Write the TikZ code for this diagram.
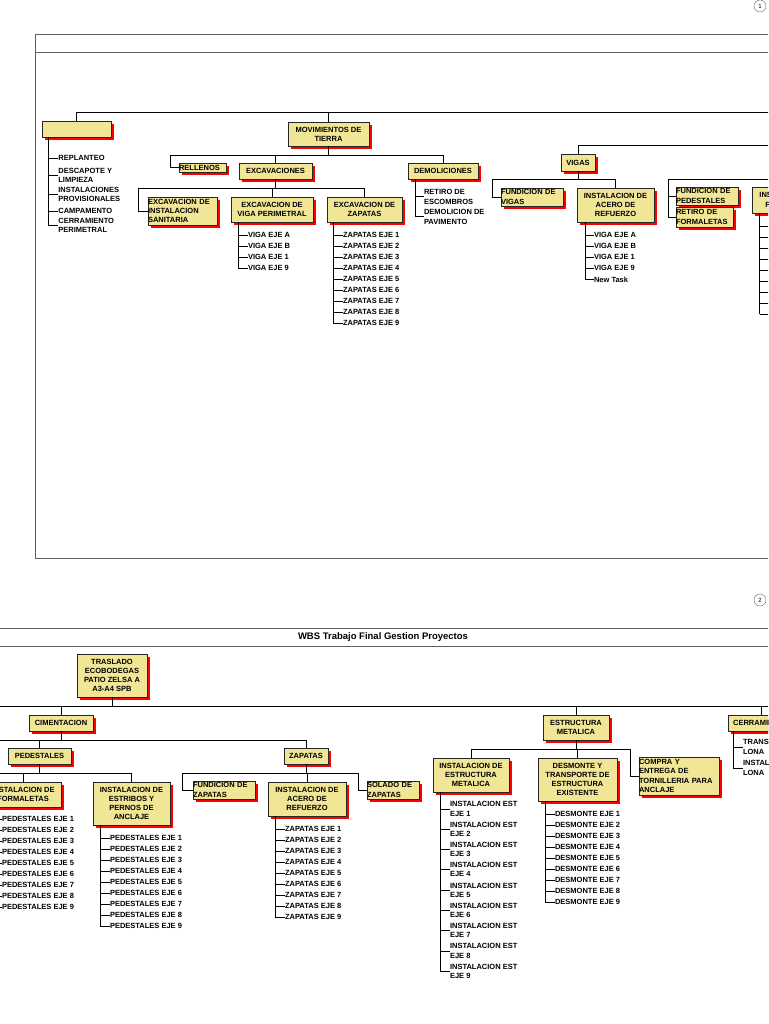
\documentclass[tikz,border=0pt]{standalone}
\usepackage{fontspec}
\setmainfont{Liberation Sans}
\usepackage{tikz}
\usepackage{xcolor}
\usetikzlibrary{shadows}
\definecolor{boxfill}{RGB}{240,230,150}
\definecolor{framegray}{RGB}{95,95,95}
\newcommand{\wbsfont}{\fontsize{7.5}{9.2}\selectfont\bfseries}

\begin{document}
\begin{tikzpicture}[x=1pt, y=-1pt,
                    line width=0.75pt,
                    wbs/.style={draw=black!85, fill=boxfill, inner sep=0pt, align=center, font=\wbsfont,
                                drop shadow={fill=red, opacity=1, shadow xshift=3pt, shadow yshift=-3pt}},
                    wbsleft/.style={wbs, align=left},
                    task/.style={anchor=west, inner sep=0pt, align=left, font=\wbsfont},
                    frame/.style={draw=framegray, line width=1pt},
                    pagenum/.style={circle, draw=black!60, line width=0.4pt, minimum size=12pt, inner sep=0pt,
                                    font=\fontsize{6}{6}\selectfont}]
    \useasboundingbox (0,0) rectangle (768,1024);
    \clip (0,0) rectangle (768,1024);

    \node[pagenum] (pag1) at (760,6) {1};
    \draw[frame] (35,35) rectangle (775,558);
    \draw[frame] (35,53) -- (775,53);

    \node[wbs, minimum width=69pt, minimum height=16pt] (prelim) at (76.5,129) {};
    \node[wbs, minimum width=81pt, minimum height=24pt] (mov) at (328.5,134) {MOVIMIENTOS DE\\TIERRA};
    \node[wbsleft, text width=47pt, minimum height=9pt] (rell) at (202.5,167.5) {RELLENOS};
    \node[wbs, minimum width=73pt, minimum height=16pt] (exc) at (275.5,171) {EXCAVACIONES};
    \node[wbs, minimum width=70pt, minimum height=16pt] (dem) at (443,171) {DEMOLICIONES};
    \node[wbsleft, text width=69pt, minimum height=28pt] (exsan) at (182.5,211) {EXCAVACION DE\\INSTALACION\\SANITARIA};
    \node[wbs, minimum width=82pt, minimum height=25pt] (exvig) at (272,209.5) {EXCAVACION DE\\VIGA PERIMETRAL};
    \node[wbs, minimum width=75pt, minimum height=25pt] (exzap) at (364.5,209.5) {EXCAVACION DE\\ZAPATAS};
    \node[wbs, minimum width=34pt, minimum height=17pt] (vigas) at (578,162.5) {VIGAS};
    \node[wbsleft, text width=62pt, minimum height=18pt] (fundv) at (532,197) {FUNDICION DE\\VIGAS};
    \node[wbs, minimum width=77pt, minimum height=34pt] (acv) at (615.5,205) {INSTALACION DE\\ACERO DE\\REFUERZO};
    \node[wbsleft, text width=62pt, minimum height=18pt] (fundp) at (707,196) {FUNDICION DE\\PEDESTALES};
    \node[wbsleft, text width=57pt, minimum height=20pt] (retf) at (704.5,217) {RETIRO DE\\FORMALETAS};
    \node[wbs, minimum width=78pt, minimum height=26pt] (insf) at (791,200) {INSTALACION DE\\FORMALETAS};

    \coordinate (bus1) at (775,112);
    \coordinate (bus2) at (775,145);
    \coordinate (bus3) at (668,179);
    \coordinate (bus3end) at (775,179);
    \draw (prelim.north) |- (bus1);
    \draw (mov.north) -- (mov.north |- bus1);
    \draw (vigas.north) |- (bus2);
    \draw (mov.south) -- ++(0,9) coordinate (movbus);
    \draw (rell.west) -- ++(-8pt,0) |- (movbus) -| (dem.north);
    \draw (exc.north) -- (exc.north |- movbus);
    \draw (exc.south) -- ++(0,9) coordinate (excbus);
    \draw (exsan.west) -- ++(-9pt,0) |- (excbus) -| (exzap.north);
    \draw (exvig.north) -- (exvig.north |- excbus);
    \draw (vigas.south) -- ++(0,8) coordinate (vigbus);
    \draw (fundv.west) -- ++(-8pt,0) |- (vigbus) -| (acv.north);
    \draw (fundp.west) -| (bus3) -- (bus3end);
    \draw (retf.west) -| (bus3);
    \draw (insf.north) -- (insf.north |- bus3);

    \foreach \y/\txt [count=\i] in {158/REPLANTEO, 175.5/{DESCAPOTE Y\\LIMPIEZA}, 194.5/{INSTALACIONES\\PROVISIONALES},
                                    211/CAMPAMENTO, 225.5/{CERRAMIENTO\\PERIMETRAL}}
        \node[task] (prelim-\i) at (58,\y) {\txt};
    \draw ([xshift=7pt]prelim.south west) |- (prelim-5.west);
    \foreach \i in {1,...,4}
        \draw (prelim-\i.west) -- ++(-9pt,0);

    \foreach \txt [count=\i] in {{RETIRO DE\\ESCOMBROS}, {DEMOLICION DE\\PAVIMENTO}}
        \node[task] (dem-\i) at ([xshift=16pt, yshift=2.5pt-20pt*\i]dem.south west) {\txt};
    \draw ([xshift=8pt]dem.south west) |- (dem-2.west);
    \draw (dem-1.west) -- ++(-8pt,0);

    \foreach \txt [count=\i] in {VIGA EJE A, VIGA EJE B, VIGA EJE 1, VIGA EJE 9}
        \node[task] (exvig-\i) at ([xshift=17pt, yshift=-2pt-11pt*\i]exvig.south west) {\txt};
    \draw ([xshift=8pt]exvig.south west) |- (exvig-4.west);
    \foreach \i in {1,...,3}
        \draw (exvig-\i.west) -- ++(-9pt,0);

    \foreach \i in {1,...,9}
        \node[task] (exzap-\i) at ([xshift=16pt, yshift=-2pt-11pt*\i]exzap.south west) {ZAPATAS EJE \i};
    \draw ([xshift=7pt]exzap.south west) |- (exzap-9.west);
    \foreach \i in {1,...,8}
        \draw (exzap-\i.west) -- ++(-9pt,0);

    \foreach \txt [count=\i] in {VIGA EJE A, VIGA EJE B, VIGA EJE 1, VIGA EJE 9, New Task}
        \node[task] (acv-\i) at ([xshift=17pt, yshift=-2pt-11pt*\i]acv.south west) {\txt};
    \draw ([xshift=9pt]acv.south west) |- (acv-5.west);
    \foreach \i in {1,...,4}
        \draw (acv-\i.west) -- ++(-8pt,0);

    \foreach \i in {1,...,9}
        \coordinate (insf-\i) at ([xshift=8pt, yshift=-2pt-11pt*\i]insf.south west);
    \draw ([xshift=8pt]insf.south west) -- (insf-9);
    \foreach \i in {1,...,9}
        \draw (insf-\i) -- ++(12pt,0);

    \node[pagenum] (pag2) at (760,600) {2};
    \draw[frame] (-5,628) -- (775,628);
    \draw[frame] (-5,646) -- (775,646);
    \node[font=\fontsize{9.5}{11}\selectfont\bfseries] (titulo) at (383,637) {WBS Trabajo Final Gestion Proyectos};

    \node[wbs, minimum width=70pt, minimum height=43pt] (tras) at (112,675.5) {TRASLADO\\ECOBODEGAS\\PATIO ZELSA A\\A3-A4 SPB};
    \node[wbs, minimum width=64pt, minimum height=16pt] (cim) at (61,723) {CIMENTACION};
    \node[wbs, minimum width=66pt, minimum height=25pt] (estm) at (576,727.5) {ESTRUCTURA\\METALICA};
    \node[wbs, minimum width=66pt, minimum height=16pt] (cerr) at (761,723) {CERRAMIENTO};
    \node[wbs, minimum width=63pt, minimum height=16pt] (ped) at (39.5,756) {PEDESTALES};
    \node[wbs, minimum width=44pt, minimum height=16pt] (zap) at (306,756) {ZAPATAS};
    \node[wbs, minimum width=76pt, minimum height=25pt] (insform) at (23,794.5) {INSTALACION DE\\FORMALETAS};
    \node[wbs, minimum width=77pt, minimum height=43pt] (insest) at (131.5,803.5) {INSTALACION DE\\ESTRIBOS Y\\PERNOS DE\\ANCLAJE};
    \node[wbsleft, text width=62pt, minimum height=18pt] (fundz) at (224,790) {FUNDICION DE\\ZAPATAS};
    \node[wbs, minimum width=78pt, minimum height=34pt] (acz) at (307,799) {INSTALACION DE\\ACERO DE\\REFUERZO};
    \node[wbsleft, text width=52pt, minimum height=18pt] (solz) at (393,790) {SOLADO DE\\ZAPATAS};
    \node[wbs, minimum width=76pt, minimum height=34pt] (iem) at (471,775) {INSTALACION DE\\ESTRUCTURA\\METALICA};
    \node[wbs, minimum width=79pt, minimum height=43pt] (dte) at (577.5,779.5) {DESMONTE Y\\TRANSPORTE DE\\ESTRUCTURA\\EXISTENTE};
    \node[wbsleft, text width=80pt, minimum height=38pt] (comp) at (679,776) {COMPRA Y\\ENTREGA DE\\TORNILLERIA PARA\\ANCLAJE};

    \coordinate (bus4l) at (-5,706);
    \coordinate (bus4r) at (775,706);
    \coordinate (cimbus) at (-5,740);
    \coordinate (pedbus) at (-5,773);
    \draw (bus4l) -- (bus4r);
    \draw (tras.south) -- (tras.south |- bus4l);
    \foreach \n in {cim, estm, cerr}
        \draw (\n.north) -- (\n.north |- bus4l);
    \draw (cim.south) -- (cim.south |- cimbus);
    \draw (cimbus) -| (zap.north);
    \draw (ped.north) -- (ped.north |- cimbus);
    \draw (ped.south) -- (ped.south |- pedbus);
    \draw (pedbus) -| (insest.north);
    \draw (insform.north) -- (insform.north |- pedbus);
    \draw (zap.south) -- ++(0,9) coordinate (zapbus);
    \draw (fundz.west) -- ++(-10pt,0) |- (zapbus) -| ([xshift=-8pt]solz.west) -- (solz.west);
    \draw (acz.north) -- (acz.north |- zapbus);
    \draw (estm.south) -- ++(0,9) coordinate (estbus);
    \draw (iem.north) |- (estbus) -| ([xshift=-8pt]comp.west) -- (comp.west);
    \draw (dte.north) -- (dte.north |- estbus);

    \foreach \i in {1,...,9}
        \node[task] (insform-\i) at ([xshift=17pt, yshift=-1pt-11pt*\i]insform.south west) {PEDESTALES EJE \i};
    \draw ([xshift=8pt]insform.south west) |- (insform-9.west);
    \foreach \i in {1,...,8}
        \draw (insform-\i.west) -- ++(-9pt,0);

    \foreach \i in {1,...,9}
        \node[task] (insest-\i) at ([xshift=17pt, yshift=-2pt-11pt*\i]insest.south west) {PEDESTALES EJE \i};
    \draw ([xshift=8pt]insest.south west) |- (insest-9.west);
    \foreach \i in {1,...,8}
        \draw (insest-\i.west) -- ++(-9pt,0);

    \foreach \i in {1,...,9}
        \node[task] (acz-\i) at ([xshift=17pt, yshift=-2pt-11pt*\i]acz.south west) {ZAPATAS EJE \i};
    \draw ([xshift=8pt]acz.south west) |- (acz-9.west);
    \foreach \i in {1,...,8}
        \draw (acz-\i.west) -- ++(-9pt,0);

    \foreach \i in {1,...,9}
        \node[task] (iem-\i) at ([xshift=17pt, yshift=3.8pt-20.3pt*\i]iem.south west) {INSTALACION EST\\EJE \i};
    \draw ([xshift=8pt]iem.south west) |- (iem-9.west);
    \foreach \i in {1,...,8}
        \draw (iem-\i.west) -- ++(-9pt,0);

    \foreach \i in {1,...,9}
        \node[task] (dte-\i) at ([xshift=17pt, yshift=-2pt-11pt*\i]dte.south west) {DESMONTE EJE \i};
    \draw ([xshift=8pt]dte.south west) |- (dte-9.west);
    \foreach \i in {1,...,8}
        \draw (dte-\i.west) -- ++(-9pt,0);

    \foreach \txt [count=\i] in {{TRANSPORTE DE\\LONA}, {INSTALACION DE\\LONA}}
        \node[task] (cerr-\i) at ([xshift=15pt, yshift=5.5pt-21pt*\i]cerr.south west) {\txt};
    \draw ([xshift=6pt]cerr.south west) |- (cerr-2.west);
    \draw (cerr-1.west) -- ++(-9pt,0);
\end{tikzpicture}
\end{document}
